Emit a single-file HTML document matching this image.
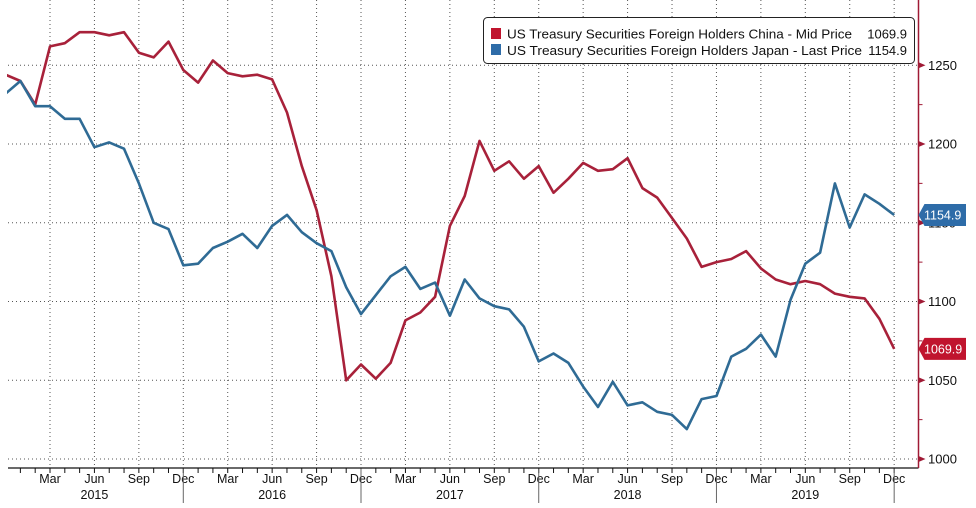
<!DOCTYPE html>
<html><head><meta charset="utf-8"><style>
html,body{margin:0;padding:0;background:#fff;}
svg text{font-family:"Liberation Sans","DejaVu Sans",sans-serif;}
</style></head><body>
<svg id="chart" width="976" height="503" viewBox="0 0 976 503" xmlns="http://www.w3.org/2000/svg">
<defs><clipPath id="plotclip"><rect x="7" y="0" width="911" height="468"/></clipPath></defs>
<g id="grid"></g>
<g id="series" clip-path="url(#plotclip)"></g>
<g id="axes"></g>
<g>
<rect x="483.5" y="17.5" width="431" height="46" rx="4" fill="#fff" stroke="#222" stroke-width="1"/>
<rect x="491" y="28" width="10" height="11" fill="#c0142e"/>
<text x="507" y="38.5" font-size="13" fill="#111" textLength="345" lengthAdjust="spacingAndGlyphs">US Treasury Securities Foreign Holders China - Mid Price</text>
<text x="907" y="38.5" font-size="13" fill="#111" text-anchor="end">1069.9</text>
<rect x="491" y="44" width="10" height="11" fill="#2e6ca8"/>
<text x="507" y="55" font-size="13" fill="#111" textLength="355" lengthAdjust="spacingAndGlyphs">US Treasury Securities Foreign Holders Japan - Last Price</text>
<text x="907" y="55" font-size="13" fill="#111" text-anchor="end">1154.9</text>
</g>
</svg>
<script>
// month index: 0 = Jan 2015; first point is Dec 2014
const startMonth = -1;
const china = [1244,1240,1225,1262,1264,1271,1271,1269,1271,1258,1255,1265,1247,1239,1253,1245,1243,1244,1241,1220,1186,1158,1116,1050,1060,1051,1061,1088,1093,1103,1148,1167,1202,1183,1189,1178,1186,1169,1178,1188,1183,1184,1191,1172,1166,1153,1140,1122,1125,1127,1132,1121,1114,1111,1113,1111,1105,1103,1102,1089,1069.9];
const japan = [1232,1240,1224,1224,1216,1216,1198,1201,1197,1175,1150,1146,1123,1124,1134,1138,1143,1134,1148,1155,1144,1137,1132,1109,1092,1104,1116,1122,1108,1112,1091,1114,1102,1097,1095,1084,1062,1067,1061,1046,1033,1049,1034,1036,1030,1028,1019,1038,1040,1065,1070,1079,1065,1101,1124,1131,1175,1147,1168,1162,1154.9];
const yTicks = [1000,1050,1100,1150,1200,1250];
const monthNames = ["Jan","Feb","Mar","Apr","May","Jun","Jul","Aug","Sep","Oct","Nov","Dec"];
const years = ["2015","2016","2017","2018","2019"];

const NS="http://www.w3.org/2000/svg";
function xS(m){return 50+(m-2)*14.81;}
function yS(v){return 459-(v-1000)*1.575;}
function mk(tag,attrs,parent){const e=document.createElementNS(NS,tag);for(const k in attrs)e.setAttribute(k,attrs[k]);parent.appendChild(e);return e;}
const grid=document.getElementById('grid'),axes=document.getElementById('axes'),series=document.getElementById('series');
const X0=8,XR=918.5,YB=468;

yTicks.forEach(v=>{
  const l=mk('line',{x1:X0,x2:XR,y1:yS(v),y2:yS(v),stroke:'#555','stroke-width':1,'stroke-dasharray':'1,3'},grid);
  
  
});
for(let m=0;m<60;m++){
  const x=xS(m);
  const t=mk('line',{x1:x,x2:x,y1:YB,y2:YB+5,stroke:'#111','stroke-width':1},axes);
  
  
  if(m%3===2){
    const g=mk('line',{x1:x,x2:x,y1:0,y2:YB,stroke:'#555','stroke-width':1,'stroke-dasharray':'1,3'},grid);
    
    
    const lb=mk('text',{x:x,y:483,'font-size':12.5,fill:'#111','text-anchor':'middle'},axes);
    lb.textContent=monthNames[m%12];
    
    
  }
  if(m%12===11){
    const s=mk('line',{x1:x,x2:x,y1:YB,y2:503,stroke:'#666','stroke-width':1},axes);
    
    
  }
}
years.forEach((y,i)=>{
  const lb=mk('text',{x:xS(i*12+5),y:499,'font-size':12.5,fill:'#111','text-anchor':'middle'},axes);
  lb.textContent=y;
  
  
});
const bx=mk('line',{x1:X0,x2:XR,y1:YB,y2:YB,stroke:'#111','stroke-width':1.3},axes);


const ry=mk('line',{x1:XR,x2:XR,y1:0,y2:YB,stroke:'#a01a35','stroke-width':1.5},axes);


yTicks.forEach(v=>{
  const y=yS(v);
  const tr=mk('path',{d:`M${XR},${y-3} L${XR+7},${y} L${XR},${y+3} Z`,fill:'#a01a35'},axes);
  
  
  const lb=mk('text',{x:928,y:y+4.5,'font-size':13,fill:'#111'},axes);
  lb.textContent=v;
  
  
  if(v<1250){
    const mt=mk('line',{x1:XR,x2:XR+4,y1:yS(v+25),y2:yS(v+25),stroke:'#a01a35','stroke-width':1},axes);
    
    
  }
});
function line(data,color,name){
  const pts=data.map((v,i)=>xS(startMonth+i).toFixed(1)+','+yS(v).toFixed(1)).join(' ');
  const p=mk('polyline',{points:pts,fill:'none',stroke:color,'stroke-width':2.6,'stroke-linejoin':'round'},series);
  
  
}
line(china,'#a8213a','china-line');
line(japan,'#2f6b95','japan-line');
function tag(v,color,name){
  const y=yS(v);
  const g=mk('g',{},axes);
  
  
  mk('path',{d:`M${XR},${y} L${XR+6},${y-11} L${966},${y-11} L${966},${y+11} L${XR+6},${y+11} Z`,fill:color},g);
  const t=mk('text',{x:924,y:y+4.5,'font-size':12.5,fill:'#fff'},g);
  t.textContent=v.toFixed(1);
}
tag(japan[japan.length-1],'#2e6ca8','japan-last-value');
tag(china[china.length-1],'#c0142e','china-last-value');
</script>
</body></html>
